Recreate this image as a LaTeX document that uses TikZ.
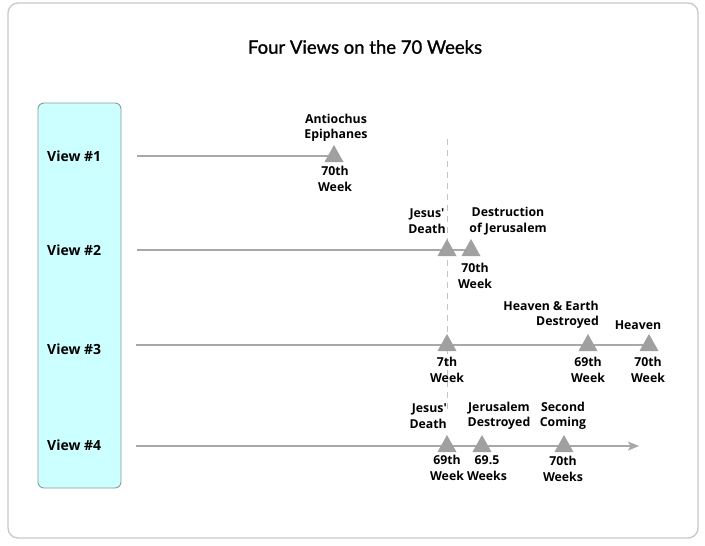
\documentclass[tikz,border=0pt]{standalone}
\usepackage{fontspec}
\setmainfont{Open Sans}[Ligatures=TeXOff]
\newfontfamily\titlefont[FakeBold=1.2]{Lato}
\usetikzlibrary{arrows.meta}
\definecolor{boxfill}{HTML}{CCFFFF}
\definecolor{boxline}{HTML}{8A9A9A}
\definecolor{framecol}{HTML}{C8C8C8}
\definecolor{tlcol}{HTML}{A8A8A8}
\definecolor{tricol}{HTML}{A0A0A0}
\definecolor{dashcol}{HTML}{C4C4C4}
\begin{document}
\begin{tikzpicture}[x=1pt,y=-1pt,
  lbl/.style={font=\bfseries\fontsize{12.3}{15.5}\selectfont, align=center, inner sep=0pt, text=black},
  viewlbl/.style={font=\bfseries\fontsize{14}{16}\selectfont, anchor=west, inner sep=0pt, text=black},
  tl/.style={draw=tlcol, line width=1.5pt},
  tri/.pic={\fill[tricol] (-9.5,6) -- (9.5,6) -- (0,-11) -- cycle;}]
\useasboundingbox (0,0) rectangle (705,546);
% outer frame
\draw[framecol, line width=1.3pt, rounded corners=10pt] (8,3) rectangle (698,538);
% title
\node[font=\titlefont\fontsize{18.5}{20}\selectfont, inner sep=0pt] (title) at (365,47) {Four Views on the 70 Weeks};
% left box
\draw[boxline, fill=boxfill, line width=0.9pt, rounded corners=6pt] (38,103) rectangle (121,488);
\node[viewlbl] (v1) at (47,156) {View \#1};
\node[viewlbl] (v2) at (47,250) {View \#2};
\node[viewlbl] (v3) at (47,349) {View \#3};
\node[viewlbl] (v4) at (47,445) {View \#4};
% dashed line
\coordinate (dtop) at (447,139);
\coordinate (dbot) at (447,413);
\draw[dashcol, line width=0.9pt, dash pattern=on 6pt off 5pt] (dtop) -- (dbot);
% View 1
\coordinate (s1) at (137,156);
\coordinate (t1a) at (334,156);
\draw[tl] (s1) -- (t1a);
\pic at (t1a) {tri};
\node[lbl] (l1a) at (336,128) {Antiochus\\Epiphanes};
\node[lbl] (l1b) at (335,179) {70th\\Week};
% View 2
\coordinate (s2) at (137,250);
\coordinate (t2a) at (447,250);
\coordinate (t2b) at (471,250);
\draw[tl] (s2) -- (t2b);
\pic at (t2a) {tri};
\pic at (t2b) {tri};
\node[lbl] (l2a) at (427,221) {Jesus'\\Death};
\node[lbl] (l2b) at (508,221) {Destruction\\of Jerusalem};
\node[lbl] (l2c) at (475,276) {70th\\Week};
% View 3
\coordinate (s3) at (136,345);
\coordinate (t3a) at (447,345);
\coordinate (t3b) at (588,345);
\coordinate (t3c) at (649,345);
\draw[tl] (s3) -- (t3c);
\pic at (t3a) {tri};
\pic at (t3b) {tri};
\pic at (t3c) {tri};
\node[lbl, align=right, anchor=east] (l3a) at (599,315) {Heaven \& Earth\\Destroyed};
\node[lbl] (l3b) at (638,325) {Heaven};
\node[lbl] (l3c) at (447,370) {7th\\Week};
\node[lbl] (l3d) at (588,370) {69th\\Week};
\node[lbl] (l3e) at (648,370) {70th\\Week};
% View 4
\coordinate (s4) at (136,446);
\coordinate (e4) at (639,446);
\coordinate (t4a) at (447,446);
\coordinate (t4b) at (482,446);
\coordinate (t4c) at (564,446);
\draw[tl, -{Stealth[length=11pt, width=9pt, inset=2.5pt]}] (s4) -- (e4);
\pic at (t4a) {tri};
\pic at (t4b) {tri};
\pic at (t4c) {tri};
\node[lbl, align=right, anchor=east] (l4a) at (447,416) {Jesus'\\Death};
\node[lbl] (l4b) at (499,416) {Jerusalem\\Destroyed};
\node[lbl] (l4c) at (563,416) {Second\\Coming};
\node[lbl] (l4d) at (447,468) {69th\\Week};
\node[lbl] (l4e) at (487,468) {69.5\\Weeks};
\node[lbl] (l4f) at (563,469) {70th\\Weeks};
\end{tikzpicture}
\end{document}
